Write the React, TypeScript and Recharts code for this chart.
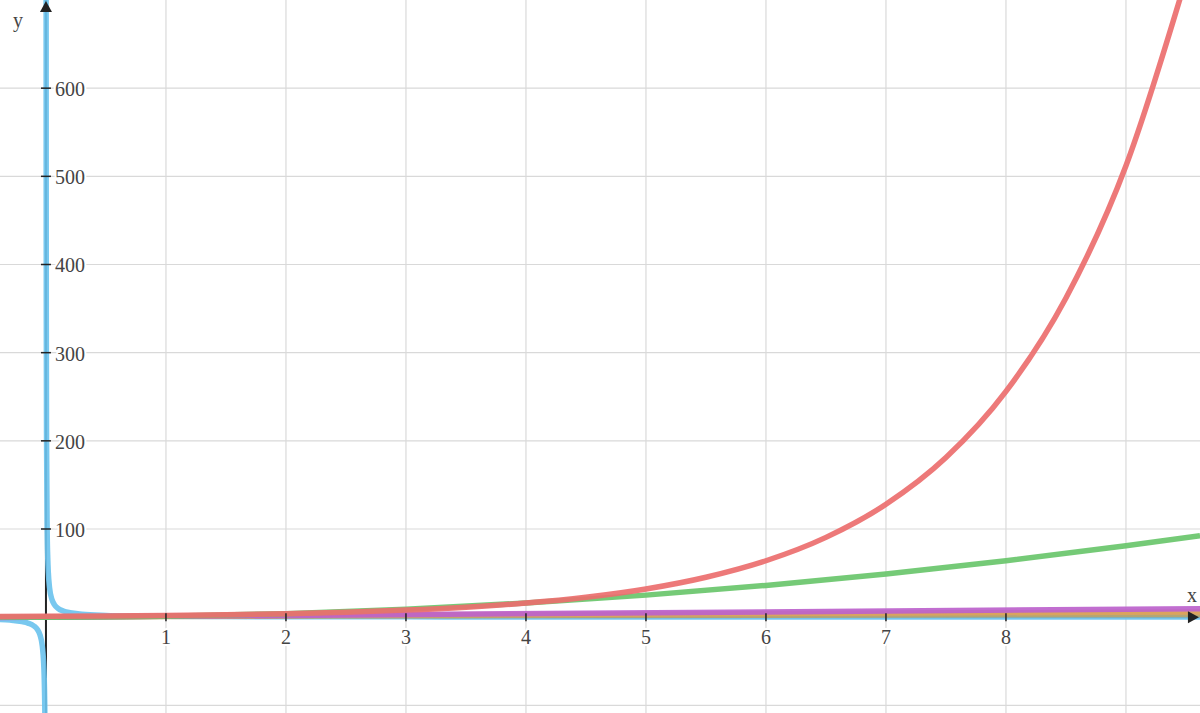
import React from 'react';
import { LineChart, Line, XAxis, YAxis, ReferenceLine, ReferenceDot } from 'recharts';

// Plot window
const X_DOMAIN: [number, number] = [-0.383, 9.617];
const Y_DOMAIN: [number, number] = [-108.7, 700];

const X_TICKS = [1, 2, 3, 4, 5, 6, 7, 8];
const X_GRID = [1, 2, 3, 4, 5, 6, 7, 8, 9];
const Y_TICKS = [100, 200, 300, 400, 500, 600];
const Y_GRID = [-100, 100, 200, 300, 400, 500, 600];

// red curve
const RED_X = [-0.383, 0, 0.5, 1, 1.5, 2, 2.5, 3, 3.5, 4, 4.5, 5, 5.5, 6, 6.5, 7, 7.5, 8, 8.5, 9, 9.5];
const RED_Y = [0.77, 1, 1.41, 2, 2.83, 4, 5.66, 8, 11.3, 16, 22.6, 32, 45.3, 64, 90.5, 128, 181, 256, 362, 512, 724];

// green curve
const GREEN_X = [-0.383, 0, 1, 2, 3, 4, 5, 6, 7, 8, 9, 9.617];
const GREEN_Y = [0.15, 0, 1, 4, 9, 16, 25, 36, 49, 64, 81, 92.5];

// purple line
const PURPLE_X = [-0.383, 9.617];
const PURPLE_Y = [-0.38, 9.6];

// orange / tan curves hugging the x axis
const ORANGE_X = [0, 1, 2, 4, 6, 9.617];
const ORANGE_Y = [0, 1, 1.8, 3, 4.2, 5.8];
const TAN_X = [0, 1, 2, 4, 6, 9.617];
const TAN_Y = [0, 0.8, 1.2, 1.8, 2.3, 3];

// blue hyperbola, two branches
const BLUE_NEG_X = [-0.383, -0.3, -0.2, -0.15, -0.1, -0.07, -0.05, -0.03, -0.02, -0.015, -0.01, -0.008];
const BLUE_NEG_Y = [-2.61, -3.33, -5, -6.67, -10, -14.3, -20, -33.3, -50, -66.7, -100, -125];
const BLUE_POS_X = [0.0014, 0.002, 0.003, 0.005, 0.01, 0.015, 0.02, 0.03, 0.05, 0.07, 0.1, 0.15, 0.2, 0.3, 0.5, 0.75, 1, 1.5, 2, 3, 4, 6, 9.617];
const BLUE_POS_Y = [714, 500, 333, 200, 100, 66.7, 50, 33.3, 20, 14.3, 10, 6.67, 5, 3.33, 2, 1.33, 1, 0.67, 0.5, 0.33, 0.25, 0.17, 0.1];

const zip = (xs: number[], ys: number[]) => xs.map((x, i) => ({ x, y: ys[i] }));

const FONT = '"Liberation Serif", "DejaVu Serif", serif';
const GRID = '#d9d9d9';
const AXIS = '#222';

const labelStyle = {
  fontFamily: FONT,
  fontSize: 20,
  fill: '#444',
  stroke: '#fff',
  strokeWidth: 4,
  paintOrder: 'stroke' as const,
};

const XTickLabel = (text: string) => (p: any) => (
  <g>
    <line x1={p.cx} y1={p.cy - 4} x2={p.cx} y2={p.cy + 4} stroke={AXIS} strokeWidth={1.5} />
    <text x={p.cx} y={p.cy + 20} textAnchor="middle" dominantBaseline="central" style={labelStyle}>
      {text}
    </text>
  </g>
);

const YTickLabel = (text: string) => (p: any) => (
  <g>
    <line x1={p.cx - 5} y1={p.cy} x2={p.cx + 5} y2={p.cy} stroke={AXIS} strokeWidth={1.5} />
    <text x={p.cx + 9} y={p.cy + 1} textAnchor="start" dominantBaseline="central" style={labelStyle}>
      {text}
    </text>
  </g>
);

const UpArrow = (p: any) => (
  <g>
    <path d={`M${p.cx - 6},${p.cy + 12} L${p.cx},${p.cy + 1} L${p.cx + 6},${p.cy + 12} Z`} fill={AXIS} />
    <text x={p.cx - 28} y={p.cy + 20} textAnchor="middle" dominantBaseline="central" style={labelStyle}>
      y
    </text>
  </g>
);

const RightArrow = (p: any) => (
  <g>
    <path d={`M${p.cx - 10},${p.cy - 6} L${p.cx + 1},${p.cy} L${p.cx - 10},${p.cy + 6} Z`} fill={AXIS} />
    <text x={p.cx - 6} y={p.cy - 22} textAnchor="middle" dominantBaseline="central" style={labelStyle}>
      x
    </text>
  </g>
);

const SERIES = [
  { key: 'blueNeg', data: zip(BLUE_NEG_X, BLUE_NEG_Y), color: '#6cc3ee' },
  { key: 'bluePos', data: zip(BLUE_POS_X, BLUE_POS_Y), color: '#6cc3ee' },
  { key: 'tan', data: zip(TAN_X, TAN_Y), color: '#b9a36b' },
  { key: 'orange', data: zip(ORANGE_X, ORANGE_Y), color: '#dca45c' },
  { key: 'purple', data: zip(PURPLE_X, PURPLE_Y), color: '#bc62cc' },
  { key: 'green', data: zip(GREEN_X, GREEN_Y), color: '#69c66b' },
  { key: 'red', data: zip(RED_X, RED_Y), color: '#ec6e6e' },
];

export default function App() {
  return (
    <div style={{ position: 'absolute', left: 0, top: 0, width: 1200, height: 713, background: '#fff' }}>
      <LineChart width={1200} height={713} margin={{ top: 0, right: 0, bottom: 0, left: 0 }}>
        <XAxis dataKey="x" type="number" domain={X_DOMAIN} allowDataOverflow hide />
        <YAxis dataKey="y" type="number" domain={Y_DOMAIN} allowDataOverflow hide />

        {X_GRID.map((v) => (
          <ReferenceLine key={`gx${v}`} x={v} stroke={GRID} strokeWidth={1.2} />
        ))}
        {Y_GRID.map((v) => (
          <ReferenceLine key={`gy${v}`} y={v} stroke={GRID} strokeWidth={1.2} />
        ))}
        <ReferenceLine x={0} stroke={AXIS} strokeWidth={2} />
        <ReferenceLine y={0} stroke={AXIS} strokeWidth={2} />

        {SERIES.map((s) => (
          <Line
            key={s.key}
            data={s.data}
            dataKey="y"
            type="monotone"
            stroke={s.color}
            strokeWidth={5.5}
            strokeOpacity={0.92}
            dot={false}
            activeDot={false}
            isAnimationActive={false}
          />
        ))}

        {X_TICKS.map((v) => (
          <ReferenceDot key={`tx${v}`} x={v} y={0} r={0} ifOverflow="visible" shape={XTickLabel(String(v))} />
        ))}
        {Y_TICKS.map((v) => (
          <ReferenceDot key={`ty${v}`} x={0} y={v} r={0} ifOverflow="visible" shape={YTickLabel(String(v))} />
        ))}
        <ReferenceDot x={0} y={700} r={0} ifOverflow="visible" shape={UpArrow} />
        <ReferenceDot x={9.6} y={0} r={0} ifOverflow="visible" shape={RightArrow} />
      </LineChart>
    </div>
  );
}
